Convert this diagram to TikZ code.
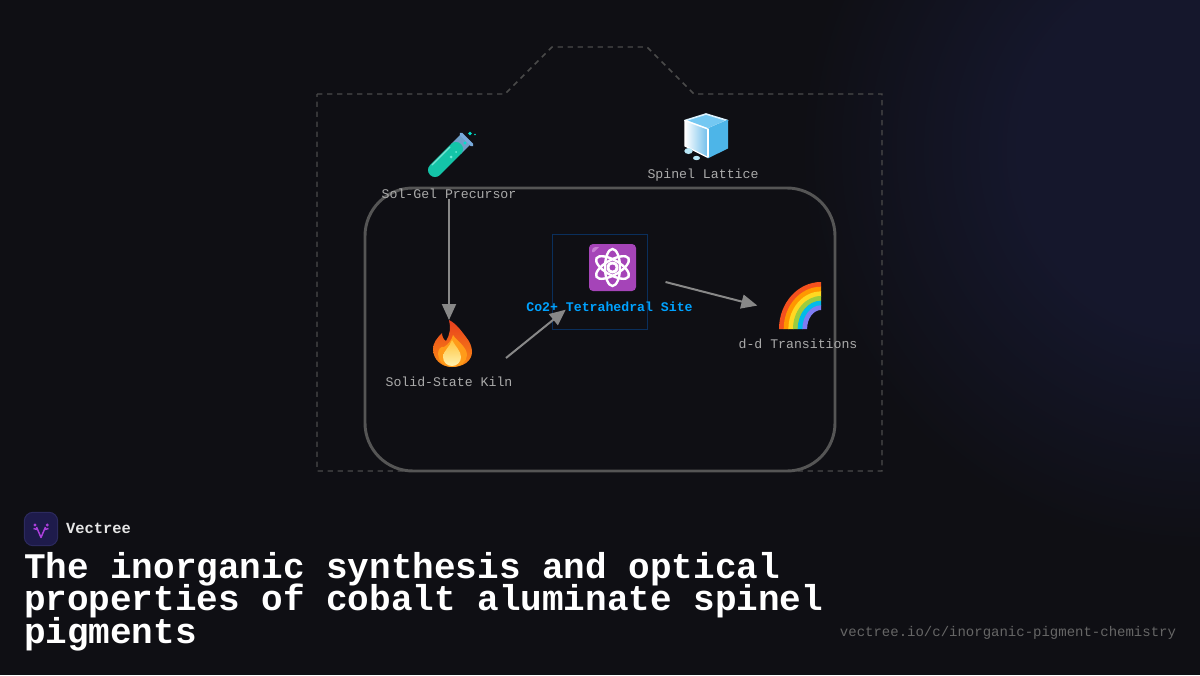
\documentclass[tikz,border=0pt]{standalone}
\usepackage{fontspec}
\setmonofont{Liberation Mono}
\usetikzlibrary{arrows.meta}
\definecolor{bgdark}{HTML}{0F0F14}
\definecolor{bgglow}{HTML}{15172C}
\definecolor{dashgray}{HTML}{4A4A4A}
\definecolor{framegray}{HTML}{555555}
\definecolor{flowgray}{HTML}{888888}
\definecolor{labelgray}{HTML}{AAAAAA}
\definecolor{siteblue}{HTML}{00A2FF}
\definecolor{sitebox}{HTML}{0A2F5C}
\definecolor{urlgray}{HTML}{666666}
\definecolor{logofill}{HTML}{1E1B4B}
\definecolor{logoedge}{HTML}{2C2A5E}
\definecolor{logoviolet}{HTML}{AB3FDC}
\definecolor{atomviolet}{HTML}{A544B8}
\definecolor{tubeteal}{HTML}{14C4A8}
\definecolor{tubeglass}{HTML}{6F9FC8}
\definecolor{icepale}{HTML}{DDF3FF}
\definecolor{icetop}{HTML}{74C8F2}
\definecolor{iceside}{HTML}{4DB5E8}
\pgfdeclareradialshading{cornerglow}{\pgfpoint{0bp}{0bp}}{color(0bp)=(bgglow); color(9bp)=(bgglow); color(20bp)=(bgdark); color(50bp)=(bgdark)}
\newcommand{\tightlines}{\lineskiplimit=-30pt\relax}
\tikzset{
  flow/.style={draw=flowgray,line width=1.5pt,-{Triangle[length=12pt,width=10.5pt]}},
  itemlabel/.style={font=\ttfamily\fontsize{9.9}{11}\selectfont,text=labelgray,inner sep=0pt},
  ghost/.style={inner sep=0pt,outer sep=0pt},
}
\begin{document}
\begin{tikzpicture}[x=0.75pt,y=-0.75pt]
\useasboundingbox (0,0) rectangle (1200,675);
\fill[bgdark] (0,0) rectangle (1200,675);
\begin{scope}
\clip (0,0) rectangle (1200,675);
\shade[shading=cornerglow] (1200,150) circle (500);
\end{scope}

\draw[dashgray,line width=1.1pt,dash pattern=on 4pt off 3.5pt] (317,94) -- (505,94) -- (552,47) -- (647,47) -- (694,94) -- (882,94) -- (882,471) -- (317,471) -- cycle;
\draw[framegray,line width=2.2pt,rounded corners=36pt] (365,188) rectangle (835,471);

\node[ghost,draw=sitebox,line width=0.75pt,minimum size=71.25pt] (site) at (600,282) {};
\node[ghost,minimum width=85.5pt,minimum height=57pt] (kiln) at (449,358) {};
\node[ghost,circle,minimum size=63pt] (trans) at (798,316) {};

\node[itemlabel] (precursor) at (449,194) {Sol-Gel Precursor};
\node[itemlabel] (lattice) at (703,175) {Spinel Lattice};
\node[itemlabel] (kilnlabel) at (449,382) {Solid-State Kiln};
\node[itemlabel] (translabel) at (798,344) {d-d Transitions};
\node[itemlabel,text=siteblue,font=\ttfamily\bfseries\fontsize{9.9}{11}\selectfont] (sitelabel) at (609.5,307) {Co2+ Tetrahedral Site};

\draw[flow] (precursor.south) -- (kiln.north);
\draw[flow,shorten >=33pt] (kiln.east) -- (site.center);
\draw[flow] ([xshift=13.5pt]site.east) -- (trans);

% test tube
\draw[tubeglass,line width=10.5pt,line cap=butt] (456,149) -- (466.5,138.5);
\draw[tubeteal,line width=10.5pt,line cap=round] (435,170) -- (456,149);
\draw[color={rgb,255:red,120;green,225;blue,210},line width=1pt,line cap=round] (432,165) -- (450,147);
\draw[color={rgb,255:red,120;green,170;blue,220},line width=2.5pt,line cap=round] (461,134) -- (472,145);
\fill[color={rgb,255:red,0;green,225;blue,205}] (470,133.5) circle (1.8) (475,134.5) circle (0.8) (465,143) circle (1.6);
\fill[color={rgb,255:red,110;green,235;blue,215}] (451,157) circle (1.5) (456,152) circle (1);

% ice cube
\fill[icetop,draw=icepale,line width=1.2pt,line join=round] (706,114) -- (727.5,120.5) -- (708,129) -- (685,120.5) -- cycle;
\shade[left color=white,right color={rgb,255:red,110;green,190;blue,235},draw=white,line width=1pt,line join=round] (685,120.5) -- (708,129) -- (708,157.5) -- (685,146) -- cycle;
\fill[iceside,draw=iceside,line width=1pt,line join=round] (708,129) -- (727.5,120.5) -- (727.5,148) -- (708,157.5) -- cycle;
\draw[white,line width=1.1pt,line cap=round] (708,129) -- (708,157);
\fill[color={rgb,255:red,185;green,232;blue,248}] (688.5,151) ellipse[x radius=4.2,y radius=3] (696.5,158) ellipse[x radius=3.5,y radius=2.2];

% atom
\fill[atomviolet,rounded corners=3pt] (589,244) rectangle (636,291);
\fill[color={rgb,255:red,200;green,125;blue,212}] (592,252) .. controls (592,247) and (594,247) .. (599,247) -- (594,252) -- cycle;
\draw[white,line width=1.8pt] (612.5,267.5) ellipse[x radius=18.5,y radius=7.5,rotate=30];
\draw[white,line width=1.8pt] (612.5,267.5) ellipse[x radius=18.5,y radius=7.5,rotate=150];
\draw[white,line width=1.8pt] (612.5,267.5) ellipse[x radius=7.5,y radius=18.5];
\fill[white] (612.5,267.5) circle (6);
\fill[atomviolet] (612.5,267.5) circle (3);

% flame
\shade[top color={rgb,255:red,232;green,62;blue,30},bottom color={rgb,255:red,250;green,140;blue,20}] (452,367) .. controls (441,367) and (433,359) .. (433,349) .. controls (433,343) and (437,338) .. (442,333) .. controls (442,337) and (444,340) .. (446,341) .. controls (450,335) and (451,327) .. (449,320) .. controls (457,324) and (462,332) .. (466,337) .. controls (470,342) and (472,347) .. (472,352) .. controls (472,361) and (463,367) .. (452,367) -- cycle;
\fill[color={rgb,255:red,255;green,155;blue,25}] (452,367) .. controls (444,367) and (438,361) .. (438,354) .. controls (438,349) and (441,346) .. (444,347) .. controls (449,344) and (452,339) .. (453,335) .. controls (457,341) and (467,347) .. (467,355) .. controls (467,362) and (460,367) .. (452,367) -- cycle;
\shade[top color={rgb,255:red,255;green,195;blue,60},bottom color={rgb,255:red,255;green,242;blue,175}] (452,366) .. controls (447,366) and (443,362) .. (443,357) .. controls (443,351) and (450,347) .. (452,340) .. controls (455,346) and (461,351) .. (461,357) .. controls (461,362) and (457,366) .. (452,366) -- cycle;

% rainbow
\foreach \rx/\ry/\ix/\iy/\band in {42/47/36.8/41.8/{rgb,255:red,244;green,81;blue,30},37.3/42.3/32.1/37.1/{rgb,255:red,255;green,152;blue,0},32.6/37.6/27.5/32.5/{rgb,255:red,255;green,216;blue,33},28/33/22.8/27.8/{rgb,255:red,156;green,204;blue,61},23.3/28.3/18.1/23.2/{rgb,255:red,3;green,187;blue,232},18.6/23.7/13.9/19/{rgb,255:red,126;green,124;blue,242}}
  \fill[color=\band] (821-\rx,329) arc[start angle=180,end angle=270,x radius=\rx,y radius=\ry] -- (821,329-\iy) arc[start angle=270,end angle=180,x radius=\ix,y radius=\iy] -- cycle;

% logo
\node[ghost,draw=logoedge,fill=logofill,line width=0.75pt,rounded corners=6.5pt,minimum size=25pt] (logo) at (41,529) {};
\draw[logoviolet,line width=1.1pt,line join=round] (36.5,527) -- (41,537.5) -- (45.5,527) (33.5,528.5) -- (37,529.5) (48.5,528.5) -- (45,529.5);
\fill[logoviolet] (35,525) circle (1.6) (47.3,525) circle (1.6);
\node[ghost,anchor=west,font=\ttfamily\bfseries\fontsize{11.6}{14}\selectfont,text=white!90!black] (brand) at (66,528) {Vectree};

\node[ghost,anchor=north west,align=flush left,text width=650pt,font=\ttfamily\bfseries\fontsize{27}{24.3}\selectfont\tightlines,text=white] (headline) at (24,552.5) {The inorganic synthesis and optical\\properties of cobalt aluminate spinel\\pigments};
\node[ghost,anchor=east,font=\ttfamily\fontsize{10.5}{12}\selectfont,text=urlgray] (url) at (1176,632.5) {vectree.io/c/inorganic-pigment-chemistry};
\end{tikzpicture}
\end{document}
